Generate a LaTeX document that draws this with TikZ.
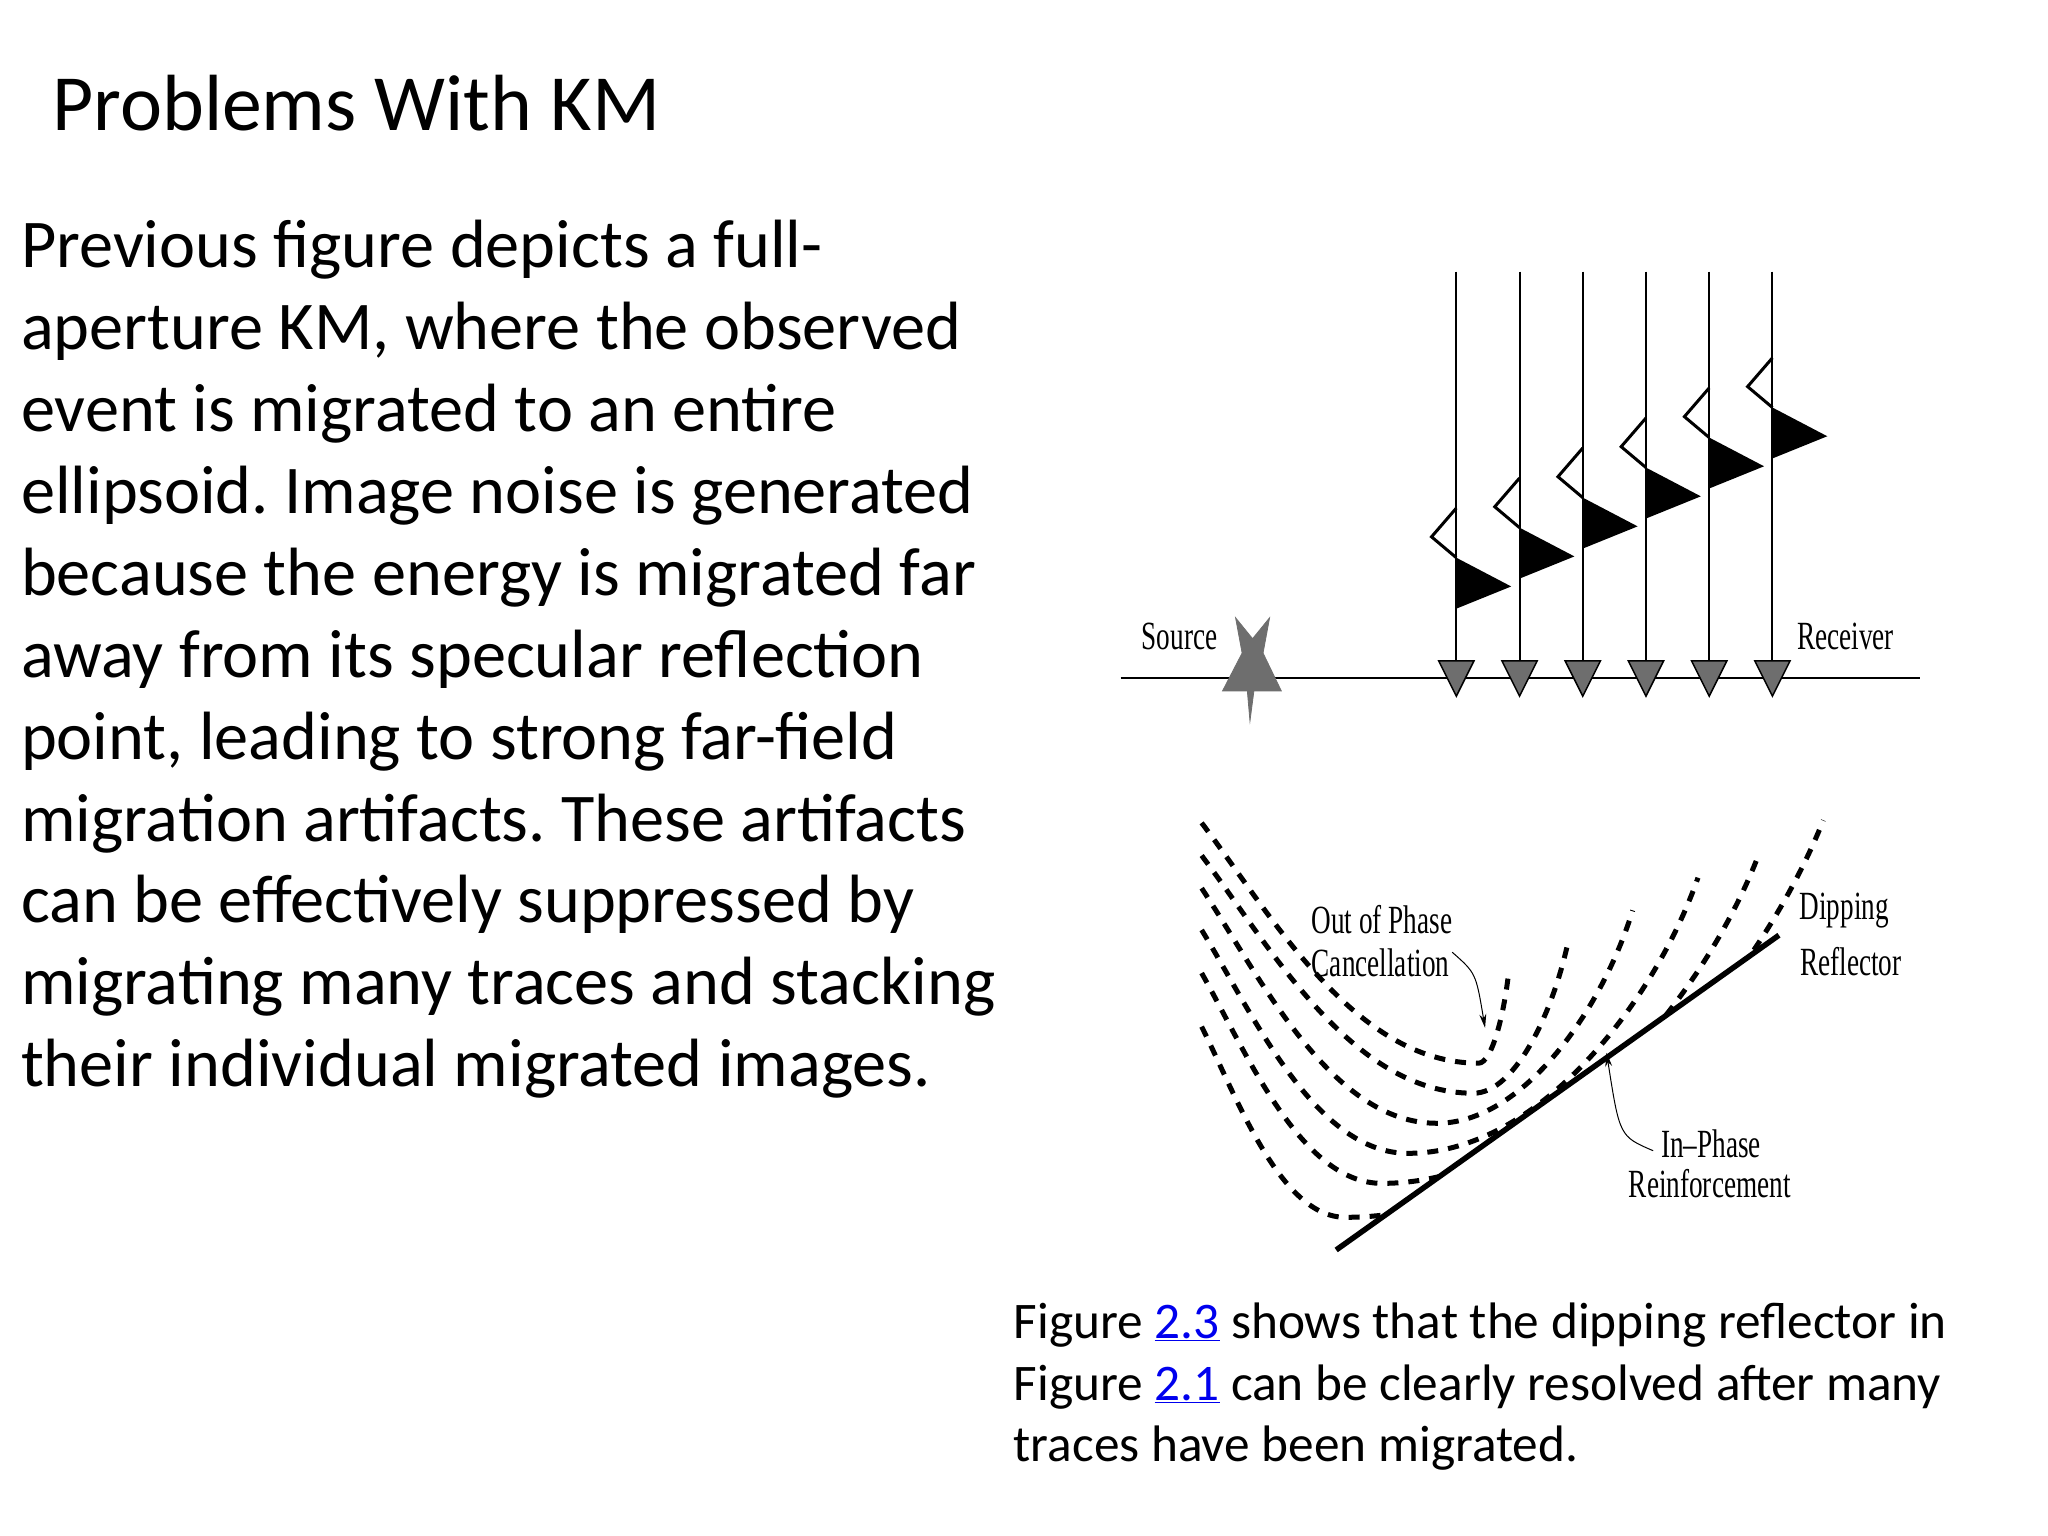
\documentclass[tikz,border=0pt]{standalone}
\usepackage{fontspec}
\setmainfont{Carlito}
\newfontfamily\timesf{Liberation Serif}
\usepackage{graphicx}
\usetikzlibrary{calc,arrows.meta}
\newcommand{\cond}[1]{\scalebox{0.68}[1]{#1}}
\definecolor{linkblue}{RGB}{0,0,238}
\definecolor{rgray}{RGB}{110,110,110}
\frenchspacing
\begin{document}
\begin{tikzpicture}[x=1.306pt,y=-1.306pt,
  title/.style={anchor=base west,inner sep=0pt,font=\fontsize{79.7}{96}\selectfont},
  body/.style={anchor=base west,inner sep=0pt,font=\fontsize{68.3}{83}\selectfont},
  capt/.style={anchor=base west,inner sep=0pt,font=\fontsize{51.3}{62}\selectfont},
  lab/.style={inner sep=0pt,font=\timesf\fontsize{40}{44}\selectfont},
  trace/.style={line width=2pt},
  rec/.style={fill=rgray,draw=black,line width=1.5pt},
  migr/.style={line width=5pt,dash pattern=on 11pt off 10pt},
  ptr/.style={line width=1pt,-{Stealth[length=14pt,width=7pt]}}]
\path[fill=white] (0,0) rectangle (1568,1176);
\useasboundingbox (0,0) rectangle (1568,1176);

\node[title] (t) at (40,100) {Problems With KM};
\foreach \txt [count=\i from 0] in {Previous figure depicts a full-,
  {aperture KM, where the observed},
  event is migrated to an entire,
  ellipsoid. Image noise is generated,
  because the energy is migrated far,
  away from its specular reflection,
  {point, leading to strong far-field},
  migration artifacts. These artifacts,
  can be effectively suppressed by,
  migrating many traces and stacking,
  their individual migrated images.}
  \node[body] (b\i) at (16,205+62.7*\i) {\txt};

\node[capt] (c0) at (776,1025) {Figure \textcolor{linkblue}{\underline{2.3}} shows that the dipping reflector in};
\node[capt] (c1) at (776,1072) {Figure \textcolor{linkblue}{\underline{2.1}} can be clearly resolved after many};
\node[capt] (c2) at (776,1119) {traces have been migrated.};

% top figure
\coordinate (gl) at (858,519);
\coordinate (gr) at (1470,519);
\draw[line width=2pt] (gl) -- (gr);
\foreach \k in {0,...,5}{
  \pgfmathsetmacro{\xx}{1115+48.4*\k}
  \pgfmathsetmacro{\yy}{389-23*\k}
  \coordinate (tt\k) at (\xx,208);
  \coordinate (tb\k) at (\xx,508);
  \draw[trace] (tt\k) -- (tb\k);
  \fill ($(\xx,\yy)+(0,38)$) -- ($(\xx,\yy)+(42,60)$) -- ($(\xx,\yy)+(0,77)$) -- cycle;
  \draw[line width=3pt,line join=miter] (\xx,\yy) -- ($(\xx,\yy)+(-19,22)$) -- ($(\xx,\yy)+(0,38)$);
  \draw[rec] (\xx-13.5,506) -- (\xx+13.5,506) -- (\xx,533) -- cycle;
}
\draw[fill=rgray,draw=rgray,line width=0.8pt] (946,473) -- (959,489) -- (972,473) -- (967,500) -- (981,529) -- (960,529) -- (957,552) -- (955,529) -- (936,529) -- (951,500) -- cycle;
\node[lab] (src) at (903,487) {\cond{Source}};
\node[lab] (rcv) at (1413,487) {\cond{Receiver}};

% bottom figure
\coordinate (r1) at (1023,957);
\coordinate (r2) at (1362,716);
\begin{scope}
\clip (900,600) -- (900,1000) -- ($(r1)!-0.5!(r2)$) -- ($(r2)!-0.5!(r1)$) -- (1500,600) -- cycle;
\foreach \yl/\xb/\yb/\xr/\yr in {630/1132/814/1155/745, 655/1128/837/1201/719, 680/1100/860/1250/697, 712/1078/883/1300/672, 745/1058/906/1347/653, 786/1030/932/1396/628}{
  \draw[migr] (920,\yl) .. controls ({920+(\xb-920)*0.25},{\yl+(\yb-\yl)*0.38}) and ({\xb-(\xb-920)*0.45},\yb) .. (\xb,\yb)
     .. controls ({\xb+(\xr-\xb)*0.45},\yb) and ({\xr-(\xr-\xb)*0.15},{\yr+(\yb-\yr)*0.45}) .. (\xr,\yr);
}
\end{scope}
\draw[line width=5.5pt] (r1) -- (r2);
\node[lab] (op1) at (1058,704) {\cond{Out of Phase}};
\node[lab] (op2) at (1057,737) {\cond{Cancellation}};
\node[lab] (dp1) at (1412,697) {\cond{Dipping}};
\node[lab] (dp2) at (1417,736) {\cond{Reflector}};
\node[lab] (ip1) at (1310,876) {\cond{In–Phase}};
\node[lab] (ip2) at (1309,906) {\cond{Reinforcement}};
\coordinate (a1) at (1137,787);
\coordinate (a2) at (1230,806);
\draw[ptr] (op2.east) ++(2,-8) .. controls (1130,745) .. (a1);
\draw[ptr] (ip1.west) ++(-6,5) .. controls (1240,870) .. (a2);
\end{tikzpicture}
\end{document}
